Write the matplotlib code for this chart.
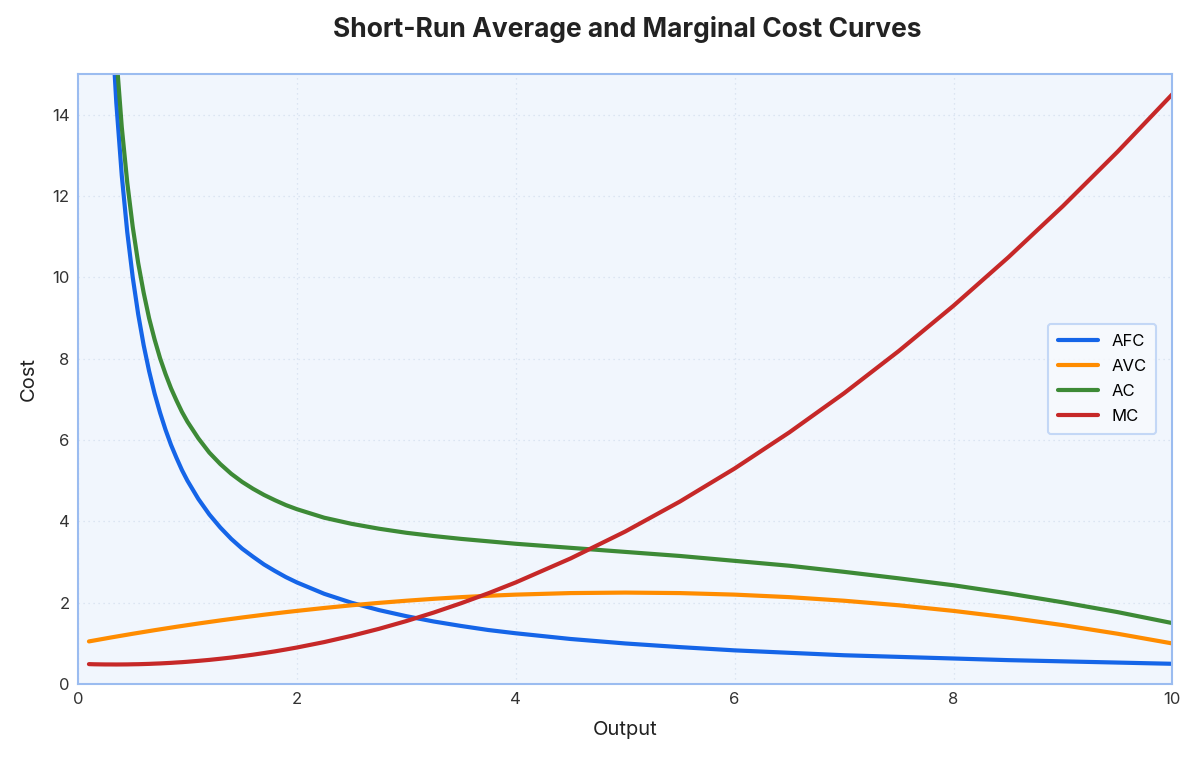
import matplotlib
matplotlib.use("Agg")
import matplotlib.pyplot as plt

plt.rcParams['font.family'] = ['Inter', 'DejaVu Sans']

output = [0.1, 0.15, 0.2, 0.25, 0.3, 0.35, 0.4, 0.45, 0.5, 0.55, 0.6, 0.65, 0.7, 0.75,
          0.8, 0.85, 0.9, 0.95, 1.0, 1.1, 1.2, 1.3, 1.4, 1.5, 1.6, 1.7, 1.8, 1.9, 2.0,
          2.25, 2.5, 2.75, 3.0, 3.25, 3.5, 3.75, 4.0, 4.5, 5.0, 5.5, 6.0, 6.5, 7.0, 7.5,
          8.0, 8.5, 9.0, 9.5, 10.0]

afc = [50.0, 33.33, 25.0, 20.0, 16.67, 14.29, 12.5, 11.11, 10.0, 9.09, 8.33, 7.69, 7.14, 6.67,
       6.25, 5.88, 5.56, 5.26, 5.0, 4.55, 4.17, 3.85, 3.57, 3.33, 3.13, 2.94, 2.78, 2.63, 2.5,
       2.22, 2.0, 1.82, 1.67, 1.54, 1.43, 1.33, 1.25, 1.11, 1.0, 0.91, 0.83, 0.77, 0.71, 0.67,
       0.63, 0.59, 0.56, 0.53, 0.5]

avc = [1.050, 1.074, 1.098, 1.122, 1.146, 1.169, 1.192, 1.215, 1.238, 1.260, 1.282, 1.304, 1.326, 1.347,
       1.368, 1.389, 1.410, 1.430, 1.450, 1.490, 1.528, 1.566, 1.602, 1.638, 1.672, 1.706, 1.738, 1.770, 1.800,
       1.872, 1.938, 1.997, 2.050, 2.097, 2.138, 2.172, 2.200, 2.238, 2.250, 2.238, 2.200, 2.138, 2.050, 1.938,
       1.800, 1.638, 1.450, 1.238, 1.000]

ac = [51.05, 34.41, 26.10, 21.12, 17.81, 15.46, 13.69, 12.33, 11.24, 10.35, 9.62, 8.99, 8.47, 8.01,
      7.62, 7.27, 6.97, 6.69, 6.45, 6.04, 5.69, 5.41, 5.17, 4.97, 4.80, 4.65, 4.52, 4.40, 4.30,
      4.09, 3.94, 3.82, 3.72, 3.64, 3.57, 3.51, 3.45, 3.35, 3.25, 3.15, 3.03, 2.91, 2.76, 2.60,
      2.43, 2.23, 2.01, 1.77, 1.50]

mc = [0.492, 0.488, 0.486, 0.484, 0.484, 0.483, 0.484, 0.485, 0.488, 0.490, 0.494, 0.498, 0.504, 0.509,
      0.516, 0.523, 0.532, 0.540, 0.550, 0.572, 0.596, 0.624, 0.654, 0.688, 0.724, 0.764, 0.806, 0.852, 0.900,
      1.034, 1.188, 1.359, 1.550, 1.759, 1.988, 2.234, 2.500, 3.088, 3.750, 4.488, 5.300, 6.188, 7.150, 8.188,
      9.300, 10.488, 11.750, 13.088, 14.500]

series_names = ["AFC", "AVC", "AC", "MC"]
series_colors = ["#1565e8", "#ff8c00", "#3d8a36", "#c62828"]

fig = plt.figure(figsize=(12, 7.61), dpi=100)
ax = fig.add_axes([0.065, 0.101, 0.912, 0.802])
ax.set_facecolor("#f1f6fd")

for name, vals, col in zip(series_names, [afc, avc, ac, mc], series_colors):
    ax.plot(output, vals, color=col, lw=3.0, label=name, solid_capstyle='round')

ax.set_xlim(0, 10)
ax.set_ylim(0, 15)
ax.set_xticks([0, 2, 4, 6, 8, 10])
ax.set_yticks([0, 2, 4, 6, 8, 10, 12, 14])
ax.tick_params(length=0, labelsize=12, labelcolor="#333333", pad=6)
ax.grid(True, linestyle=(0, (1, 3)), color="#d5e0ef", linewidth=0.9)
ax.set_axisbelow(True)
for sp in ax.spines.values():
    sp.set_color("#9bbcf0")
    sp.set_linewidth(1.5)

ax.set_xlabel("Output", fontsize=14.5, color="#222222", labelpad=10)
ax.set_ylabel("Cost", fontsize=14.5, color="#222222", labelpad=10)
fig.text(0.523, 0.961, "Short-Run Average and Marginal Cost Curves", fontsize=19,
         fontweight='bold', color="#222222", ha='center', va='center')

leg = ax.legend(loc='center right', bbox_to_anchor=(0.993, 0.5), fontsize=12,
                frameon=True, fancybox=True, handlelength=2.4, borderpad=0.6,
                labelspacing=0.6)
leg.get_frame().set_edgecolor("#b8d0f5")
leg.get_frame().set_linewidth(1.5)
leg.get_frame().set_facecolor("#f8fafd")

fig.savefig("out.png", dpi=100)
